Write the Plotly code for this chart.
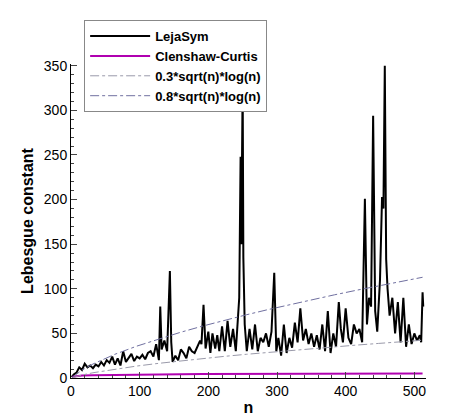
import numpy as np
import plotly.graph_objects as go

# LejaSym Lebesgue constant
n_leja = [1, 4, 8, 12, 16, 20, 24, 28, 32, 36, 40, 44, 48, 52, 56, 60, 64, 68, 72, 76,
          80, 84, 88, 92, 96, 100, 104, 108, 112, 116, 120, 124, 128, 130, 132, 136, 140,
          144, 146, 148, 152, 156, 160, 164, 168, 172, 176, 180, 184, 188, 190, 193, 196,
          200, 203, 206, 210, 213, 216, 220, 224, 228, 232, 236, 240, 243, 245, 247, 248,
          250, 251, 253, 256, 260, 264, 268, 272, 276, 280, 284, 288, 292, 296, 299, 302,
          306, 310, 314, 318, 322, 326, 330, 334, 338, 342, 346, 350, 354, 358, 362, 366,
          370, 374, 378, 382, 386, 390, 393, 396, 400, 404, 408, 412, 416, 420, 424, 428,
          431, 434, 437, 440, 443, 446, 450, 453, 455, 457, 459, 461, 464, 468, 472, 476,
          480, 484, 488, 492, 496, 500, 504, 508, 510, 512, 513]
leja = [1, 4, 6, 12, 9, 16, 12, 14, 11, 15, 13, 18, 14, 20, 17, 24, 15, 22, 14, 30,
        18, 22, 27, 19, 24, 22, 26, 21, 28, 30, 24, 38, 20, 80, 32, 42, 30,
        120, 40, 18, 25, 20, 32, 28, 22, 35, 30, 28, 36, 42, 38, 82, 33,
        52, 28, 50, 33, 48, 30, 58, 30, 64, 35, 55, 30, 70, 90, 248, 150,
        330, 135, 60, 30, 55, 32, 60, 30, 45, 40, 50, 35, 52, 118, 30, 45,
        25, 60, 28, 45, 34, 62, 40, 78, 42, 55, 38, 50, 35, 48, 32, 60,
        30, 75, 28, 50, 35, 85, 55, 40, 78, 45, 38, 60, 50, 55, 40, 201,
        60, 90, 80, 294, 75, 52, 110, 203, 190, 350, 133, 100, 70, 90, 50, 85,
        40, 90, 35, 60, 38, 50, 42, 48, 40, 96, 80]

# smooth reference curves
n_ref = [2, 8, 16, 32, 64, 96, 128, 160, 192, 224, 256, 288, 320, 352, 384, 416, 448, 480, 512]

fig = go.Figure()
fig.add_trace(go.Scatter(x=n_leja, y=leja, mode="lines", name="<b>LejaSym</b>",
                         line=dict(color="black", width=2)))
fig.add_trace(go.Scatter(x=n_ref, y=[2 / np.pi * np.log(n) + 1 for n in n_ref], mode="lines",
                         name="<b>Clenshaw-Curtis</b>", line=dict(color="#b000b0", width=2)))
fig.add_trace(go.Scatter(x=n_ref, y=[0.3 * np.sqrt(n) * np.log(n) for n in n_ref], mode="lines",
                         name="<b>0.3*sqrt(n)*log(n)</b>",
                         line=dict(color="#9a9aaa", width=1, dash="dashdot")))
fig.add_trace(go.Scatter(x=n_ref, y=[0.8 * np.sqrt(n) * np.log(n) for n in n_ref], mode="lines",
                         name="<b>0.8*sqrt(n)*log(n)</b>",
                         line=dict(color="#7070a0", width=1, dash="dashdot")))

axis_font = dict(family="Liberation Sans", size=14, color="black")
fig.update_layout(
    width=474, height=417,
    margin=dict(l=63, r=56, t=48, b=47),
    plot_bgcolor="white", paper_bgcolor="white",
    font=axis_font,
    legend=dict(x=0.037, y=1.14, xanchor="left", yanchor="top",
                bgcolor="white", bordercolor="#888", borderwidth=1,
                font=dict(family="Liberation Sans", size=13, color="black"),
                tracegroupgap=0, itemwidth=60),
    xaxis=dict(range=[0, 517], tickvals=[0, 100, 200, 300, 400, 500],
               ticks="inside", ticklen=6, showgrid=False, zeroline=False,
               showline=True, linecolor="black",
               minor=dict(ticks="inside", ticklen=3, dtick=20),
               title=dict(text="<b>n</b>", font=dict(size=16), standoff=4)),
    yaxis=dict(range=[0, 352], tickvals=[0, 50, 100, 150, 200, 250, 300, 350],
               ticks="inside", ticklen=6, showgrid=False, zeroline=False,
               showline=True, linecolor="black",
               minor=dict(ticks="inside", ticklen=3, dtick=10),
               title=dict(text="<b>Lebesgue constant</b>", font=dict(size=16), standoff=6)),
)
fig.write_html("out.html")
